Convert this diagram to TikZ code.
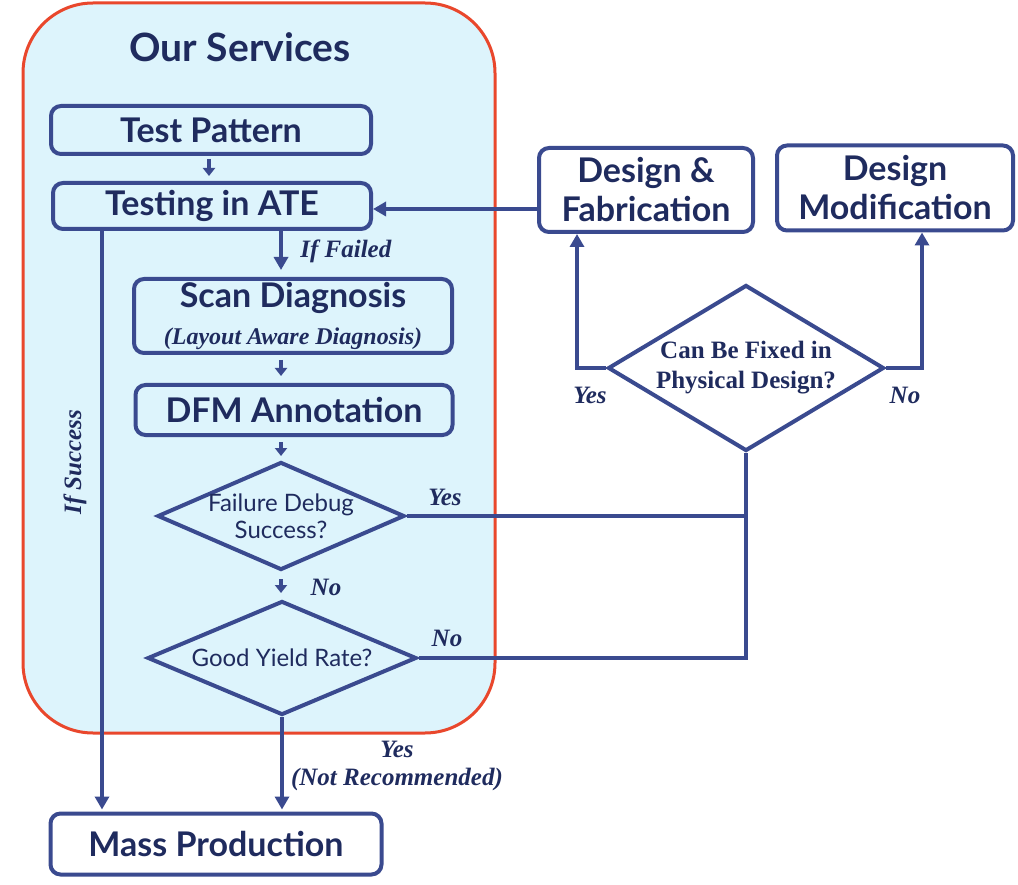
\documentclass[tikz,border=0pt]{standalone}
\usepackage{fontspec}
\setmainfont{Lato}
\newfontfamily\labelfont{Liberation Serif}
\usetikzlibrary{arrows.meta,shapes.geometric,positioning}

\definecolor{navy}{HTML}{3A4A8F}
\definecolor{ink}{HTML}{1F2B5E}
\definecolor{skyfill}{HTML}{DDF4FC}
\definecolor{framered}{HTML}{E9472C}

\tikzset{
    procbox/.style={draw=navy, line width=4pt, rounded corners=10pt, text=ink, align=center,
        inner sep=0pt, font=\fontsize{34}{39}\selectfont\bfseries},
    decision/.style={draw=navy, line width=4pt, diamond, inner sep=0pt},
    dtext/.style={text=ink, align=center, font=\fontsize{24}{27}\selectfont},
    qtext/.style={text=ink, align=center, font=\labelfont\bfseries\fontsize{25}{30}\selectfont},
    branch/.style={text=ink, align=center, font=\labelfont\bfseries\itshape\fontsize{25}{28}\selectfont},
    flow/.style={draw=navy, line width=4pt, -{Triangle[length=13pt,width=14pt]}},
    tick/.style={draw=navy, line width=4pt, -{Triangle[length=8pt,width=12pt]}},
    link/.style={draw=navy, line width=4pt},
}

\begin{document}
\begin{tikzpicture}[x=1pt,y=-1pt]
    \useasboundingbox (0,0) rectangle (1018,885);

    % our services frame
    \node[draw=framered, fill=skyfill, line width=3pt, rounded corners=70pt,
          minimum width=472pt, minimum height=730pt] (services) at (259,368) {};
    \node[text=ink, font=\fontsize{39}{44}\selectfont\bfseries] (title) at (240,47) {Our Services};

    \node[procbox, minimum width=320pt, minimum height=48pt] (pattern) at (211,130) {Test Pattern};
    \node[procbox, minimum width=318pt, minimum height=46pt] (ate) at (212,206) {Testing in ATE};
    \node[procbox, minimum width=318pt, minimum height=74pt] (scan) at (293,316)
        {Scan Diagnosis\\[-2pt]{\labelfont\itshape\fontsize{24}{26}\selectfont (Layout Aware Diagnosis)}};
    \node[procbox, minimum width=317pt, minimum height=50pt] (dfm) at (294,410) {DFM Annotation};

    \node[decision, minimum width=247pt, minimum height=108pt] (debug) at (281,516) {};
    \node[dtext] (debugtxt) at (debug) {Failure Debug\\Success?};
    \node[decision, minimum width=269pt, minimum height=114pt] (yield) at (282,658) {};
    \node[dtext] (yieldtxt) at (yield) {Good Yield Rate?};

    \node[procbox, minimum width=331pt, minimum height=61pt] (mass) at (216,844) {Mass Production};

    \node[procbox, minimum width=214pt, minimum height=84pt] (fab) at (646,190) {Design \&\\Fabrication};
    \node[procbox, minimum width=236pt, minimum height=85pt] (modif) at (895,188) {Design\\Modification};
    \node[decision, fill=white, minimum width=276pt, minimum height=166pt] (fixable) at (746,368) {};
    \node[qtext] (fixtxt) at (fixable) {Can Be Fixed in\\Physical Design?};

    \coordinate (succ) at (102,0);
    \coordinate (yesrise) at (577,0);
    \coordinate (norise) at (922,0);

    % main flow
    \draw[tick, shorten <=3pt, shorten >=5pt] (pattern.south -| 209,0) -- (ate.north -| 209,0);
    \draw[flow, shorten >=7pt] (ate.south -| debug.north) -- (scan.north -| debug.north)
        node[branch, pos=0.45, right=14pt] {If Failed};
    \draw[tick, shorten <=5pt, shorten >=7pt] (scan.south -| debug.north) -- (dfm.north -| debug.north);
    \draw[tick, shorten <=5pt, shorten >=4pt] (dfm.south -| debug.north) -- (debug.north);
    \draw[tick, shorten <=7pt, shorten >=6pt] (debug.south) -- (yield.north -| debug.south);
    \node[branch] at (326,587) {No};
    \draw[flow, shorten >=2pt] (yield.south) -- (mass.north -| yield.south);
    \node[branch] at (397,766) {Yes\\(Not Recommended)};
    \draw[flow, shorten >=2pt] (ate.south -| succ) -- (mass.north -| succ);
    \node[branch, rotate=90] at (75,462) {If Success};

    % back to design
    \draw[link] (debug.east) -- (debug.east -| fixable.south);
    \node[branch] at (445,497) {Yes};
    \draw[link] (yield.east) -- (yield.east -| fixable.south) -- (fixable.south);
    \node[branch] at (447,638) {No};
    \draw[flow] (fixable.west) -- (fixable.west -| yesrise) -- (fab.south -| yesrise);
    \node[branch] at (590,395) {Yes};
    \draw[flow] (fixable.east) -- (fixable.east -| norise) -- (modif.south -| norise);
    \node[branch] at (905,395) {No};
    \draw[flow] (fab.west |- 0,209) -- (ate.east |- 0,209);
\end{tikzpicture}
\end{document}
